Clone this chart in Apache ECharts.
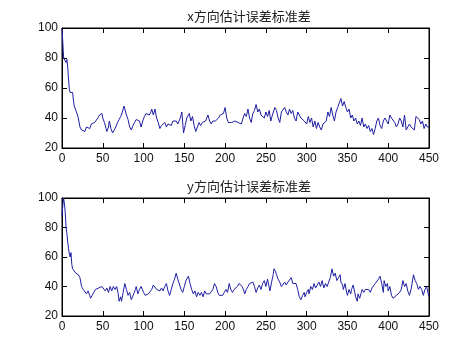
<!DOCTYPE html>
<html>
<head>
<meta charset="utf-8">
<script src="https://cdn.jsdelivr.net/npm/echarts@6/dist/echarts.min.js"></script>
<style>html,body{margin:0;padding:0;background:#fff}#c{width:474px;height:355px}</style>
</head>
<body>
<div id="c"></div>
<script>
// ---- data ----
const titleX = "x方向估计误差标准差";
const titleY = "y方向估计误差标准差";
const xTicks = [0, 50, 100, 150, 200, 250, 300, 350, 400, 450];
const yTicks = [20, 40, 60, 80, 100];

const stepsX = [0,1,2,3,4,5,6,7,8,9,10,12,13,14,15,17,19,20,22,24,26,28,30,32,34,36,38,40,42,44,46,48,49,50,52,54,55,57,58,60,62,64,66,68,70,72,74,76,77,79,81,83,85,87,89,91,93,95,97,99,101,103,105,107,109,110,112,114,116,118,120,122,124,126,128,130,132,134,136,138,140,142,144,145,147,149,151,153,156,158,160,162,164,166,168,170,172,174,176,179,181,183,185,188,190,192,194,196,198,200,202,204,206,208,210,212,214,216,218,220,222,224,226,228,230,232,234,236,238,240,242,244,246,248,250,252,254,256,258,261,263,265,267,269,271,273,275,277,279,281,283,285,287,289,291,293,295,297,300,302,304,306,308,310,312,314,316,318,320,322,324,326,328,330,332,334,336,338,340,342,344,346,348,350,352,354,356,358,360,362,364,366,368,370,372,374,376,378,380,382,384,386,388,390,392,394,396,398,400,402,404,406,408,410,412,414,416,418,420,422,424,426,428,430,432,434,436,438,440,442,444,446,448,450];
const errX = [100,90,80,79,81,77,79,74,66,59,57,56,57,52,48,45,42,40,34,32,32,31,34,35,33,36,35,37,36,40,42,41,43,40,37,33,31,34,38,33,30,29,34,37,39,41,44,48,46,42,39,34,32,35,37,39,40,38,34,38,41,43,44,42,44,46,42,46,40,37,33,35,35,37,34,36,36,35,38,37,38,36,35,40,44,30,35,40,43,38,41,35,31,30,37,35,37,37,38,42,38,36,38,38,39,40,42,41,43,47,40,37,38,37,37,38,38,37,37,36,40,43,41,46,40,37,43,45,49,44,46,42,43,40,44,41,45,38,42,47,45,40,37,44,45,47,44,42,46,43,45,40,38,44,42,40,41,38,36,41,37,40,34,38,33,37,34,32,36,35,38,44,41,47,42,38,44,47,50,53,48,51,47,44,46,40,42,38,40,36,38,35,40,34,36,33,35,31,33,29,33,38,40,35,33,38,40,38,36,42,40,41,37,34,36,40,38,34,42,32,34,36,34,35,32,41,40,39,36,38,33,36,34,34];

const stepsY = [0,1,2,3,4,5,6,7,8,9,10,11,12,13,15,17,19,20,22,24,26,28,30,32,34,35,37,39,41,43,45,47,49,51,53,55,57,59,61,63,65,67,69,70,72,73,75,77,79,81,83,85,87,88,90,91,93,95,97,100,102,104,106,108,110,112,114,116,118,120,122,124,126,128,130,132,134,136,138,140,142,144,146,148,150,152,155,157,159,161,163,165,167,169,171,173,175,177,179,181,183,185,187,189,191,193,195,197,199,201,203,205,207,209,211,213,215,217,219,221,223,224,226,228,230,232,234,236,238,240,242,244,246,248,250,252,255,257,259,260,262,263,265,267,269,271,273,275,277,279,281,283,285,287,289,291,293,295,297,298,300,302,303,305,307,309,311,313,315,317,319,321,323,325,327,329,331,333,335,337,339,341,342,344,345,347,349,350,352,354,355,357,359,360,362,363,365,367,368,370,372,374,376,378,380,382,384,386,388,390,392,394,395,397,399,400,402,404,406,408,410,412,414,416,418,420,422,424,426,428,431,433,435,437,439,441,443,445,447,450];
const errY = [88,95,100,96,90,80,76,70,66,62,60,63,55,52,51,49,49,48,46,40,38,37,35,37,34,32,34,36,38,37,39,40,40,39,37,39,36,40,37,40,38,40,35,30,33,30,36,42,38,34,36,31,30,35,38,40,35,38,40,36,34,33,35,36,38,41,40,38,39,37,39,37,40,42,37,34,38,42,45,49,45,44,38,36,40,44,47,42,38,35,37,33,36,34,36,33,37,35,36,35,34,38,42,40,36,34,35,34,36,38,36,42,38,36,38,37,40,42,41,40,37,35,38,40,42,41,43,40,36,39,41,38,42,44,40,45,37,43,48,52,50,48,45,43,40,41,43,41,43,44,46,42,41,42,38,33,31,34,36,33,36,38,35,40,38,42,39,41,43,40,44,39,42,40,43,46,52,47,49,44,46,48,43,41,38,42,36,34,38,35,38,41,36,33,30,35,32,36,38,36,38,37,38,36,39,40,42,43,45,47,42,36,44,40,42,37,40,34,32,33,34,35,36,38,44,40,42,37,34,38,48,44,42,38,40,38,34,38,40,33];

function pairs(xs, ys) { return xs.map((x, i) => [x, ys[i]]); }

const FONT = '"Liberation Sans", Arial, sans-serif';
const lineColor = '#1f1fa3';

function xAx(gi, pos, showLabel) {
  return {
    type: 'value', gridIndex: gi, position: pos, min: 0, max: 450, interval: 50,
    axisLine: { show: true, onZero: false, lineStyle: { color: '#000', width: 1 } },
    axisTick: { show: true, inside: true, length: 5, lineStyle: { color: '#000' } },
    axisLabel: { show: showLabel, color: '#111', fontSize: 12, fontFamily: FONT, margin: 5 },
    splitLine: { show: false }
  };
}
function yAx(gi, pos, showLabel) {
  return {
    type: 'value', gridIndex: gi, position: pos, min: 20, max: 100, interval: 20,
    axisLine: { show: true, onZero: false, lineStyle: { color: '#000', width: 1 } },
    axisTick: { show: true, inside: true, length: 5, lineStyle: { color: '#000' } },
    axisLabel: { show: showLabel, color: '#111', fontSize: 12, fontFamily: FONT, margin: 4 },
    splitLine: { show: false }
  };
}

const titleStyle = { fontSize: 13, fontWeight: 'normal', color: '#222', fontFamily: '"Noto Sans CJK SC", sans-serif' };

const chart = echarts.init(document.getElementById('c'), null, { renderer: 'canvas' });
chart.setOption({
  animation: false,
  backgroundColor: '#fff',
  title: [
    { text: titleX, left: 244, top: 5, textAlign: 'center', textStyle: titleStyle },
    { text: titleY, left: 244, top: 175, textAlign: 'center', textStyle: titleStyle }
  ],
  grid: [
    { left: 62, right: 45, top: 28, height: 120, show: true, borderColor: '#000', borderWidth: 1, backgroundColor: '#fff' },
    { left: 62, right: 45, top: 198, height: 118, show: true, borderColor: '#000', borderWidth: 1, backgroundColor: '#fff' }
  ],
  xAxis: [xAx(0, 'bottom', true), xAx(0, 'top', false), xAx(1, 'bottom', true), xAx(1, 'top', false)],
  yAxis: [yAx(0, 'left', true), yAx(0, 'right', false), yAx(1, 'left', true), yAx(1, 'right', false)],
  series: [
    { type: 'line', xAxisIndex: 0, yAxisIndex: 0, data: pairs(stepsX, errX), showSymbol: false,
      lineStyle: { color: lineColor, width: 1 }, silent: true },
    { type: 'line', xAxisIndex: 2, yAxisIndex: 2, data: pairs(stepsY, errY), showSymbol: false,
      lineStyle: { color: lineColor, width: 1 }, silent: true }
  ]
});
</script>
</body>
</html>
